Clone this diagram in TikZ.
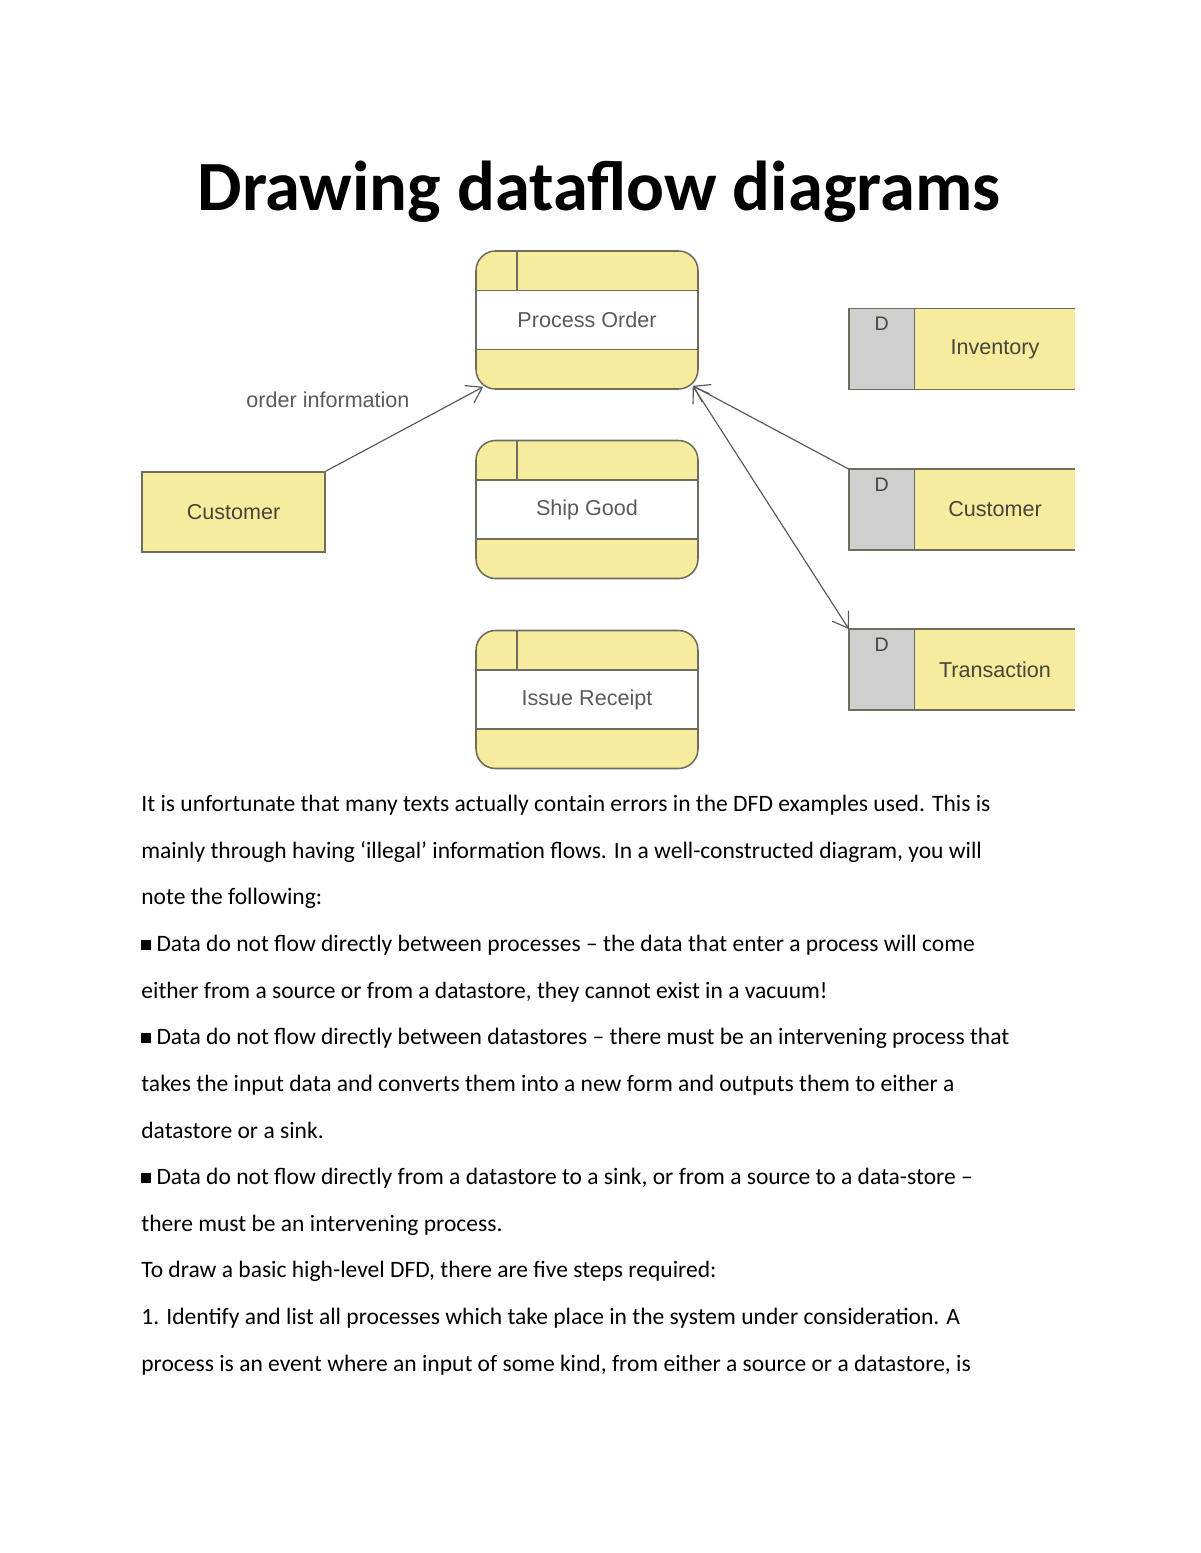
\documentclass[tikz,border=0pt]{standalone}
\usepackage{fontspec}
\setmainfont{Carlito}
\newfontfamily\diafont{Liberation Sans}
\usetikzlibrary{arrows.meta,calc,positioning}

\definecolor{dfdyel}{HTML}{F7EC9D}
\definecolor{dfdgray}{HTML}{CFCFCF}
\definecolor{dfdline}{HTML}{6E6E60}
\definecolor{lblgray}{HTML}{5A5A5A}
\definecolor{lbldark}{HTML}{45453A}

\begin{document}
\begin{tikzpicture}[x=0.51pt, y=-0.51pt, >={Straight Barb[length=7.5pt,width=10pt]},
	every node/.style={font=\diafont\fontsize{11}{13}\selectfont, text=lblgray},
	proc/.style={draw=dfdline, line width=0.8pt, fill=dfdyel, rounded corners=10pt, minimum width=113.2pt, minimum height=70.4pt, inner sep=0pt,
		path picture={
			\draw[dfdline, line width=0.8pt, fill=white, sharp corners] ([yshift=15pt]path picture bounding box.west) rectangle ([yshift=-15pt]path picture bounding box.east);
			\draw[dfdline, line width=0.8pt, sharp corners] ([xshift=21pt]path picture bounding box.north west) -- ++(0pt,-20.2pt);
		}},
	ent/.style={draw=dfdline, line width=0.8pt, fill=dfdyel, minimum width=93.3pt, minimum height=40.8pt, text=lbldark},
	store/.style={fill=dfdyel, minimum width=81.6pt, minimum height=40.8pt, inner sep=0pt, text=lbldark},
	dtag/.style={fill=dfdgray, minimum width=33.15pt, minimum height=40.8pt, inner sep=0pt},
	flow/.style={draw=black!65, line width=0.6pt},
	body/.style={font=\fontsize{12}{23.77}\selectfont, text=black, align=left, inner sep=0pt}]
	\useasboundingbox (0,0) rectangle (1200,1553);

	\node[font=\bfseries\fontsize{36}{42}\selectfont, text=black, anchor=base] (title) at (599,211) {Drawing dataflow diagrams};

	% processes
	\foreach \n/\y/\t in {po/320/Process Order, sg/509.5/Ship Good, ir/699.5/Issue Receipt}
		\node[proc] (\n) at (587,\y) {\t};

	% source
	\node[ent] (ext) at (233.5,512) {Customer};

	% datastores
	\foreach \n/\y/\t in {inv/349/Inventory, cst/509.5/Customer, trn/669.5/Transaction} {
		\node[store] (\n) at (995,\y) {\t};
		\node[dtag, left=0pt of \n] (\n-d) {};
		\node[font=\diafont\fontsize{10}{12}\selectfont, text=lbldark, below=1pt of \n-d.north] (\n-dl) {D};
		\draw[dfdline, line width=0.8pt] (\n.north east) -- (\n-d.north west) -- (\n-d.south west) -- (\n.south east);
		\draw[dfdline, line width=0.8pt] (\n-d.north east) -- (\n-d.south east);
	}

	\coordinate (po-in) at ($(po.south west)+(8,-3)$);
	\coordinate (po-out) at ($(po.south east)+(-6,-4)$);
	\draw[flow, ->] (ext.north east) -- (po-in);
	\node (oi) at (328,400) {order information};
	\draw[flow, ->] (cst-d.north west) -- (po-out);
	\draw[flow, <->] (po-out) -- (trn-d.north west);

	\node[body, anchor=north west] (txt) at (141,795) {%
		It is unfortunate that many texts actually contain errors in the DFD examples used. This is\\
		mainly through having ‘illegal’ information flows. In a well-constructed diagram, you will\\
		note the following:\\
		\raisebox{1pt}{\rule{5pt}{5pt}} Data do not flow directly between processes -- the data that enter a process will come\\
		either from a source or from a datastore, they cannot exist in a vacuum!\\
		\raisebox{1pt}{\rule{5pt}{5pt}} Data do not flow directly between datastores -- there must be an intervening process that\\
		takes the input data and converts them into a new form and outputs them to either a\\
		datastore or a sink.\\
		\raisebox{1pt}{\rule{5pt}{5pt}} Data do not flow directly from a datastore to a sink, or from a source to a data-store --\\
		there must be an intervening process.\\
		To draw a basic high-level DFD, there are five steps required:\\
		1. Identify and list all processes which take place in the system under consideration. A\\
		process is an event where an input of some kind, from either a source or a datastore, is};
\end{tikzpicture}
\end{document}
